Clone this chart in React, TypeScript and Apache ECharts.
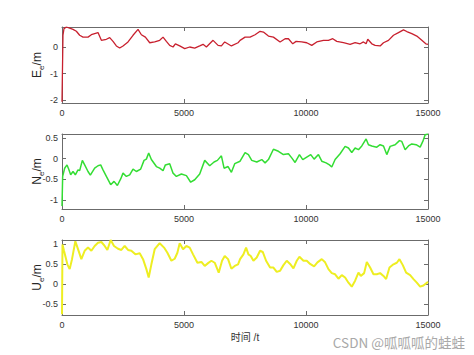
import React, { useEffect, useRef } from "react";
import * as echarts from "echarts";

const xTicks = [0, 5000, 10000, 15000];

const eX = [0, 40, 82, 178, 314, 451, 588, 724, 861, 1066, 1203, 1339, 1476, 1613, 1818, 1955, 2091, 2228, 2364, 2501, 2706, 2911, 3116, 3253, 3417, 3595, 3799, 4004, 4141, 4277, 4414, 4551, 4647, 4824, 5029, 5234, 5439, 5644, 5781, 5918, 6191, 6396, 6533, 6669, 6943, 7216, 7298, 7503, 7708, 7913, 8118, 8255, 8460, 8665, 8938, 9143, 9280, 9457, 9594, 9826, 10031, 10236, 10441, 10715, 10920, 11097, 11261, 11535, 11808, 12013, 12218, 12355, 12464, 12532, 12697, 12833, 13038, 13175, 13380, 13585, 13790, 13995, 14131, 14336, 14541, 14746, 14910, 15000];
const eY = [-2.05, 0.44, 0.69, 0.75, 0.71, 0.66, 0.59, 0.44, 0.37, 0.37, 0.46, 0.5, 0.54, 0.25, 0.29, 0.35, 0.21, 0.04, -0.04, 0.04, 0.19, 0.44, 0.66, 0.46, 0.37, 0.16, 0.19, 0.25, 0.37, 0.21, 0.06, 0, 0.12, 0.04, -0.06, 0, -0.04, 0.04, 0.1, 0, 0.25, 0.06, 0.04, 0.19, 0.04, 0.16, 0.25, 0.37, 0.37, 0.46, 0.59, 0.56, 0.41, 0.37, 0.19, 0.31, 0.31, 0.12, 0.21, 0.19, 0.16, 0.06, 0.19, 0.25, 0.25, 0.31, 0.21, 0.16, 0.1, 0.16, 0.12, 0.19, 0.12, 0.29, 0.12, 0.06, 0.04, 0.16, 0.25, 0.44, 0.54, 0.64, 0.58, 0.5, 0.41, 0.25, 0.12, 0.1];

const nX = [0, 27, 109, 205, 273, 355, 451, 547, 656, 724, 834, 929, 1066, 1162, 1339, 1476, 1585, 1681, 1818, 1995, 2132, 2269, 2405, 2501, 2638, 2774, 2911, 3048, 3225, 3362, 3458, 3553, 3663, 3868, 4004, 4141, 4237, 4414, 4551, 4688, 4893, 5098, 5275, 5439, 5644, 5849, 6054, 6232, 6369, 6533, 6642, 6806, 6943, 7079, 7298, 7503, 7640, 7776, 7981, 8187, 8323, 8460, 8665, 8870, 9075, 9280, 9416, 9553, 9731, 9867, 10031, 10195, 10332, 10510, 10646, 10824, 10961, 11056, 11193, 11398, 11603, 11740, 11876, 12013, 12150, 12287, 12464, 12560, 12697, 12902, 13038, 13175, 13311, 13448, 13653, 13831, 13926, 14063, 14200, 14336, 14514, 14678, 14787, 14883, 15000];
const nY = [-1.15, -0.43, -0.23, -0.15, -0.25, -0.39, -0.31, -0.39, -0.27, -0.29, -0.04, -0.15, -0.31, -0.4, -0.23, -0.17, -0.15, -0.27, -0.43, -0.63, -0.55, -0.65, -0.49, -0.35, -0.43, -0.39, -0.25, -0.31, -0.25, -0.04, -0.01, 0.14, -0.02, -0.19, -0.23, -0.29, -0.15, -0.12, -0.35, -0.43, -0.37, -0.41, -0.57, -0.51, -0.37, -0.04, -0.17, -0.08, -0.04, 0.07, -0.23, -0.19, -0.33, -0.12, -0.06, 0.15, 0.1, -0.04, -0.08, -0.02, -0.1, -0.02, 0.23, 0.18, 0.1, 0.12, 0.02, -0.09, 0.1, -0.02, 0.04, 0.1, -0.01, 0.1, -0.06, -0.1, -0.15, -0.2, -0.02, 0.12, 0.3, 0.26, 0.15, 0.26, 0.22, 0.31, 0.48, 0.34, 0.31, 0.28, 0.34, 0.31, 0.1, 0.3, 0.34, 0.44, 0.42, 0.22, 0.31, 0.36, 0.34, 0.28, 0.42, 0.58, 0.6];

const uX = [0, 20, 82, 219, 314, 410, 547, 656, 793, 929, 1066, 1203, 1339, 1476, 1613, 1749, 1859, 1995, 2132, 2296, 2433, 2569, 2706, 2843, 3007, 3185, 3321, 3458, 3553, 3663, 3799, 4004, 4182, 4319, 4483, 4619, 4729, 4824, 4961, 5098, 5234, 5371, 5549, 5713, 5849, 5986, 6123, 6259, 6423, 6560, 6669, 6806, 6943, 7079, 7216, 7298, 7435, 7544, 7640, 7735, 7845, 7981, 8118, 8227, 8364, 8528, 8665, 8801, 8938, 9075, 9211, 9348, 9485, 9621, 9731, 9895, 10031, 10168, 10332, 10469, 10646, 10783, 10920, 11056, 11193, 11330, 11466, 11603, 11740, 11876, 12013, 12150, 12246, 12382, 12492, 12628, 12765, 12902, 13038, 13175, 13284, 13421, 13585, 13721, 13831, 13967, 14104, 14268, 14405, 14541, 14678, 14814, 15000];
const uY = [-0.76, 0.99, 0.83, 0.49, 0.37, 0.62, 1.07, 0.87, 0.62, 0.83, 0.91, 0.83, 0.95, 1.03, 1.05, 0.95, 0.85, 1.1, 0.95, 0.88, 0.85, 0.95, 0.85, 0.83, 0.74, 0.77, 0.62, 0.37, 0.16, 0.49, 0.87, 1.02, 0.91, 0.78, 0.58, 0.63, 0.78, 1.02, 0.87, 0.95, 0.91, 0.74, 0.53, 0.55, 0.45, 0.52, 0.58, 0.53, 0.28, 0.58, 0.7, 0.62, 0.38, 0.45, 0.49, 0.62, 0.74, 0.91, 0.74, 0.7, 0.58, 0.66, 0.83, 0.8, 0.58, 0.41, 0.41, 0.3, 0.33, 0.47, 0.58, 0.5, 0.39, 0.58, 0.68, 0.58, 0.58, 0.5, 0.44, 0.54, 0.62, 0.54, 0.37, 0.27, 0.24, 0.13, 0.22, 0.16, 0.03, -0.07, 0.08, 0.28, 0.2, 0.27, 0.55, 0.41, 0.24, 0.24, 0.27, 0.2, 0.12, 0.41, 0.49, 0.53, 0.62, 0.47, 0.28, 0.22, 0.12, 0.03, -0.07, -0.04, 0.05];

const eTicks = [-2, -1, 0];
const nTicks = [-1, -0.5, 0, 0.5];
const uTicks = [-0.5, 0, 0.5, 1];

const FONT = "'Liberation Sans', Arial, 'Noto Sans CJK SC', sans-serif";
const AXIS_COLOR = "#6b6b6b";
const LABEL_COLOR = "#333333";

export default function App() {
  const ref = useRef<HTMLDivElement>(null);
  useEffect(() => {
    document.body.style.margin = "0";
    const chart = echarts.init(ref.current!, null, { renderer: "svg" });
    const grids = [
      { left: 62, right: 46, top: 27, height: 76 },
      { left: 62, right: 46, top: 134, height: 75 },
      { left: 62, right: 46, top: 240, height: 75 },
    ];
    const ranges = [
      { min: -2.1, max: 0.75, ticks: eTicks, letter: "E" },
      { min: -1.22, max: 0.6, ticks: nTicks, letter: "N" },
      { min: -0.78, max: 1.1, ticks: uTicks, letter: "U" },
    ];
    const xAxes: any[] = [];
    const yAxes: any[] = [];
    grids.forEach((_, i) => {
      xAxes.push({
        type: "value",
        gridIndex: i,
        min: 0,
        max: 15000,
        interval: 5000,
        axisLine: { show: true, onZero: false, lineStyle: { color: AXIS_COLOR } },
        axisTick: { show: true, inside: true, length: 4, lineStyle: { color: AXIS_COLOR } },
        axisLabel: {
          color: LABEL_COLOR,
          fontSize: 9,
          fontFamily: FONT,
          margin: 5,
          showMinLabel: true,
          showMaxLabel: true,
          customValues: xTicks,
          formatter: (v: number) => String(v),
        },
        splitLine: { show: false },
        ...(i === 2
          ? {
              name: "时间 /t",
              nameLocation: "middle",
              nameGap: 17,
              nameMoveOverlap: false,
              nameTextStyle: { color: LABEL_COLOR, fontSize: 10, fontFamily: FONT },
            }
          : {}),
      });
      xAxes.push({
        type: "value",
        gridIndex: i,
        position: "top",
        min: 0,
        max: 15000,
        interval: 5000,
        axisLine: { show: true, onZero: false, lineStyle: { color: AXIS_COLOR } },
        axisTick: { show: true, inside: true, length: 4, lineStyle: { color: AXIS_COLOR } },
        axisLabel: { show: false },
        splitLine: { show: false },
      });
      const r = ranges[i];
      yAxes.push({
        type: "value",
        gridIndex: i,
        min: r.min,
        max: r.max,
        axisLine: { show: true, onZero: false, lineStyle: { color: AXIS_COLOR } },
        axisTick: { show: true, inside: true, length: 4, customValues: r.ticks, lineStyle: { color: AXIS_COLOR } },
        axisLabel: { color: LABEL_COLOR, fontSize: 9, fontFamily: FONT, margin: 4, customValues: r.ticks, formatter: (v: number) => String(v) },
        splitLine: { show: false },
        name: `{a|${r.letter}}{b|e}{a|/m}`,
        nameLocation: "middle",
        nameGap: 19,
        nameMoveOverlap: false,
        nameTextStyle: {
          rich: {
            a: { fontSize: 12, fontFamily: FONT, color: "#262626", lineHeight: 16, verticalAlign: "bottom" },
            b: { fontSize: 8, fontFamily: FONT, color: "#262626", lineHeight: 16, verticalAlign: "bottom", padding: [0, 0, -2, 0] },
          },
        },
      });
      yAxes.push({
        type: "value",
        gridIndex: i,
        position: "right",
        min: r.min,
        max: r.max,
        axisLine: { show: true, onZero: false, lineStyle: { color: AXIS_COLOR } },
        axisTick: { show: true, inside: true, length: 4, customValues: r.ticks, lineStyle: { color: AXIS_COLOR } },
        axisLabel: { show: false },
        splitLine: { show: false },
      });
    });
    const mk = (xs: number[], ys: number[]) => xs.map((x, k) => [x, ys[k]]);
    chart.setOption({
      animation: false,
      backgroundColor: "#ffffff",
      grid: grids,
      xAxis: xAxes,
      yAxis: yAxes,
      series: [
        { type: "line", xAxisIndex: 0, yAxisIndex: 0, data: mk(eX, eY), showSymbol: false, lineStyle: { color: "#c8202e", width: 1.3 }, clip: true },
        { type: "line", xAxisIndex: 2, yAxisIndex: 2, data: mk(nX, nY), showSymbol: false, lineStyle: { color: "#33dd33", width: 1.5 }, clip: true },
        { type: "line", xAxisIndex: 4, yAxisIndex: 4, data: mk(uX, uY), showSymbol: false, lineStyle: { color: "#eeee22", width: 2 }, clip: true },
      ],
      graphic: [
        {
          type: "text",
          right: 9,
          top: 335,
          style: { text: "CSDN @呱呱呱的蛙蛙", fill: "#a8a8a8", fontSize: 13.5, fontFamily: "'Noto Sans CJK SC', sans-serif" },
        },
      ],
    });
    return () => chart.dispose();
  }, []);
  return <div ref={ref} style={{ width: 474, height: 355 }} />;
}
